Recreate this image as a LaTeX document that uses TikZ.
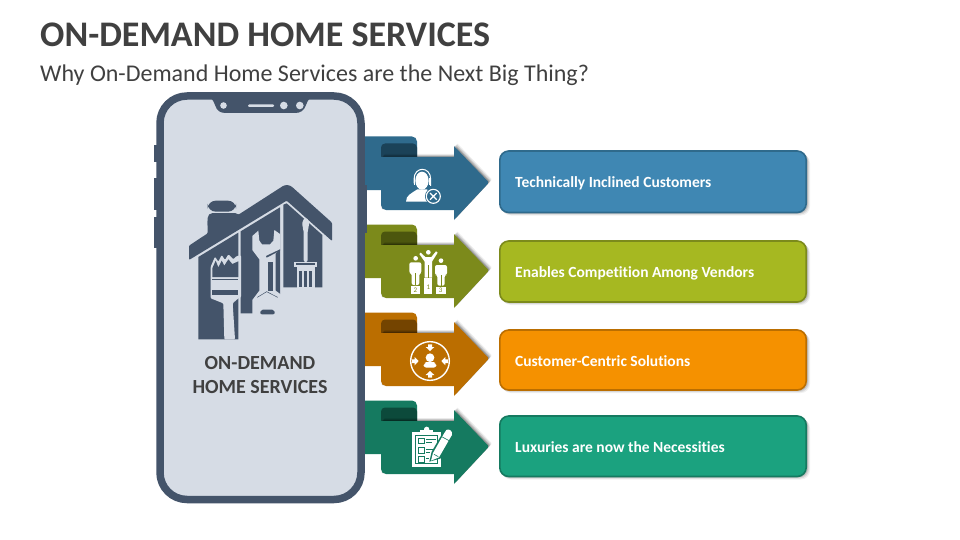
\documentclass[tikz,border=0pt]{standalone}
\usepackage{fontspec}
\setmainfont{Carlito}
\newfontfamily\carl[Ligatures=NoCommon]{Carlito}
\usetikzlibrary{calc}
\definecolor{ink}{HTML}{404040}
\definecolor{slate}{HTML}{44546A}
\definecolor{screen}{HTML}{D6DCE5}
\definecolor{blueA}{HTML}{2F6A8C}\definecolor{blueB}{HTML}{1B4258}\definecolor{blueC}{HTML}{3F87B3}
\definecolor{oliveA}{HTML}{7C8A1B}\definecolor{oliveB}{HTML}{4C560E}\definecolor{oliveC}{HTML}{A6B821}
\definecolor{orA}{HTML}{BB6E00}\definecolor{orB}{HTML}{744400}\definecolor{orC}{HTML}{F59100}
\definecolor{teA}{HTML}{157A60}\definecolor{teB}{HTML}{0C4A3B}\definecolor{teC}{HTML}{1BA27F}
\tikzset{
 titletext/.style={anchor=base west,inner sep=0pt,font=\carl\fontsize{36}{40}\selectfont\bfseries,text=ink},
 subtext/.style={anchor=base west,inner sep=0pt,font=\carl\fontsize{24}{28}\selectfont,text=ink},
 phonetext/.style={align=center,inner sep=0pt,font=\carl\fontsize{20}{23.5}\selectfont\bfseries,text=ink},
 itemtext/.style={anchor=west,inner sep=0pt,font=\carl\fontsize{15.5}{18}\selectfont\bfseries,text=white},
 itembox/.style={rounded corners=9pt,line width=1.6pt},
 ic/.style={fill=white,draw=none},
 sil/.style={fill=slate,draw=none},
 lit/.style={fill=screen,draw=none},
}
\newcommand{\foldarrow}[3]{%
 \begin{scope}[yshift=-#1pt]
 \fill[#2] (355,136.5) [rounded corners=5pt] -- (417,136.5) [sharp corners] -- (417,190) -- (355,190) -- cycle;
 \fill[#3] (381,160) [rounded corners=4pt] -- (381,143.5) -- (417,143.5) [sharp corners] -- (417,160) -- cycle;
 \foreach \s/\o in {3/.07,2.2/.1,1.4/.14,.7/.18}{
  \fill[black,opacity=\o,xshift=\s pt,yshift=\s pt,rounded corners=1pt] (381,157) -- (454,157) -- (454,146) -- (489,182.5) -- (454,220) -- (454,210) -- (381,210) -- cycle;}
 \fill[#2] (381,157) -- (454,157) -- (454,146) [rounded corners=1.5pt] -- (489,182.5) [sharp corners] -- (454,220) -- (454,210) [rounded corners=5pt] -- (381,210) [sharp corners] -- cycle;
 \end{scope}}
\newcommand{\itembx}[4]{% y1 y2 fill border
 \foreach \s/\o in {3/.06,2/.09,1/.12}{
  \fill[black,opacity=\o,rounded corners=9pt] ($(499,#1)+(\s,\s)$) rectangle ($(807,#2)+(\s,\s)$);}
 \draw[itembox,fill=#3,draw=#4] (499.8,#1) rectangle (806.2,#2);
}
\begin{document}
\begin{tikzpicture}[x=1pt,y=-1pt]
\useasboundingbox (0,0) rectangle (960,540);
\fill[white] (0,0) rectangle (960,540);
\node[titletext] (title) at (40,46.5) {ON-DEMAND HOME SERVICES};
\node[subtext] (sub) at (40,82) {Why On-Demand Home Services are the Next Big Thing?};

\foldarrow{0}{blueA}{blueB}
\foldarrow{88}{oliveA}{oliveB}
\foldarrow{176}{orA}{orB}
\foldarrow{264}{teA}{teB}

% phone
\fill[slate] (154,145) rectangle (158,162);
\fill[slate] (154,178) rectangle (158,210);
\fill[slate] (154,217) rectangle (158,248);
\fill[slate] (362,185) rectangle (367,233);
\draw[slate,line width=7.5pt,fill=screen,rounded corners=27pt] (160,96) rectangle (361,499.5);
\fill[slate] (207,96) -- (314,96) .. controls (309,98) and (308,100) .. (306,105) .. controls (304,111) and (300,113) .. (295,113) -- (226,113) .. controls (220,113) and (217,111) .. (215,105) .. controls (213,100) and (212,98) .. (207,96) -- cycle;
\fill[screen] (223.5,105.5) circle (3.3);
\fill[screen,rounded corners=1pt] (248,104.5) rectangle (274,106.8);
\fill[screen] (283.8,105.5) circle (3.8);
\fill[screen] (299.8,105.5) circle (3.8);

% house
\begin{scope}[shift={(185,180)},scale=1/3]
 \fill[sil,rounded corners=1pt] (12,197) -- (68,160) -- (68,120) -- (162,103) [rounded corners=6pt] -- (308,9) [rounded corners=1pt] -- (441,128) -- (441,183) -- (305,62) -- (12,240) -- cycle;
 \fill[sil,rounded corners=5pt] (68,99) rectangle (165,150);
 \fill[sil,rounded corners=8pt] (68,62) rectangle (153,95);
 % left wall
 \fill[sil] (40,231) -- (160,158) -- (160,478) -- (40,478) -- cycle;
 % middle block
 \fill[sil] (167,154) -- (285,82) -- (285,400) -- (167,400) -- cycle;
 % right block
 \fill[sil] (295,74) -- (305,70) -- (412,165) -- (412,322) -- (295,322) -- cycle;
 \fill[lit,rounded corners=2pt] (352,122) -- (362,112) -- (372,122) -- (372,140) -- (368,150) -- (368,246) -- (356,246) -- (356,150) -- (352,140) -- cycle;
 \fill[lit] (328,246) rectangle (396,262);
 \fill[sil] (334,250) rectangle (390,255);
 \fill[lit] (335,262) rectangle (389,324);
 \fill[sil] (342,272) rectangle (351,322);
 \fill[sil] (356,272) rectangle (366,322);
 \fill[sil] (372,272) rectangle (382,322);
\end{scope}
% paint brush
\begin{scope}[shift={(195,240)},scale=1/3]
 \fill[lit,rounded corners=1pt] (47,80) -- (60,50) -- (70,65) -- (80,45) -- (90,60) -- (100,43) -- (115,58) -- (125,48) -- (138,46) -- (138,172) -- (130,175) -- (113,190) -- (120,298) -- (88,298) -- (85,190) -- (47,175) -- cycle;
 \fill[sil] (52,111) -- (52,85) -- (62,62) -- (70,82) -- (80,62) -- (88,77) -- (100,58) -- (112,72) -- (130,64) -- (130,111) -- cycle;
 \fill[sil] (51,116.5) rectangle (130,119.5);
 \fill[sil] (51,150) rectangle (130,165);
\end{scope}
% wrench
\begin{scope}[shift={(240,220)},scale=1/3]
 \fill[lit] (37,48) -- (55,32) -- (58,62) -- (66,73) -- (90,73) -- (100,62) -- (103,30) -- (120,42) -- (120,88) -- (107,100) -- (107,212) -- (125,225) -- (125,300) -- (37,300) -- (37,240) -- (58,212) -- (58,118) -- (37,90) -- cycle;
 \fill[sil] (85,125) rectangle (98,212);
 \fill[sil] (78,108) -- (120,88) -- (120,92) -- (80,113) -- cycle;
 \draw[slate,line width=.5pt] (52,232) -- (80,215) -- (113,232);
 \fill[sil,rounded corners=2pt] (60,283) -- (62,269) -- (103,269) -- (105,283) -- cycle;
\end{scope}
\node[phonetext] (phonelabel) at (260,375) {ON-DEMAND\\HOME SERVICES};

% icon 1
\begin{scope}[shift={(400,160)},scale=1/3]
 \fill[ic] (66,62) ellipse (20 and 27);
 \fill[ic] (18,125) .. controls (18,105) and (35,100) .. (52,88) -- (80,88) .. controls (95,100) and (105,100) .. (110,112) -- (110,125) -- cycle;
 \draw[white,line width=1pt] (43,72) -- (42,58) .. controls (42,18) and (92,18) .. (92,58) -- (92,78);
 \fill[ic] (42,55) rectangle (46,75);
 \fill[ic] (88,55) rectangle (92,75);
 \fill[blueA] (100,109) circle (25);
 \draw[white,line width=1.1pt] (100,109) circle (21);
 \draw[white,line width=1.2pt] (90,99) -- (110,119) (110,99) -- (90,119);
 \fill[ic] (100,109) circle (3);
\end{scope}

% icon 2
\begin{scope}[shift={(400,245)},scale=1/3]
 \fill[ic] (85,22) circle (7);
 \fill[ic] (58,27) -- (62,23) -- (76,36) -- (94,36) -- (108,19) -- (113,23) -- (96,50) -- (96,98) -- (74,98) -- (74,50) -- cycle;
 \fill[ic] (47,40) circle (7);
 \fill[ic,rounded corners=2pt] (28,52) -- (64,52) -- (64,85) -- (58,85) -- (58,120) -- (35,120) -- (35,85) -- (28,85) -- cycle;
 \fill[ic] (123,47) circle (7);
 \fill[ic,rounded corners=2pt] (105,60) -- (141,60) -- (141,90) -- (134,90) -- (134,122) -- (112,122) -- (112,90) -- (105,90) -- cycle;
 \fill[oliveA] (45,85) rectangle (47,120);
 \fill[oliveA] (122,90) rectangle (124,122);
 \fill[oliveA] (84,60) rectangle (86,98);
 \fill[ic] (72,100) rectangle (97,147);
 \fill[ic] (32,123) rectangle (60,147);
 \fill[ic] (108,125) rectangle (137,147);
 \node[text=oliveA,inner sep=0pt,font=\fontsize{7}{7}\selectfont] (n1) at (85,126) {1};
 \node[text=oliveA,inner sep=0pt,font=\fontsize{7}{7}\selectfont] (n2) at (46,135) {2};
 \node[text=oliveA,inner sep=0pt,font=\fontsize{7}{7}\selectfont] (n3) at (122,136) {3};
\end{scope}

% icon 3
\begin{scope}[shift={(400,335)},scale=1/3]
 \draw[white,line width=1.4pt] (90,78) circle (58);
 \fill[ic] (90,68) circle (13);
 \fill[ic,rounded corners=3pt] (70,98) -- (72,85) -- (82,80) -- (98,80) -- (108,85) -- (110,98) -- cycle;
 \fill[ic] (84,28) -- (96,28) -- (96,36) -- (103,36) -- (90,48) -- (77,36) -- (84,36) -- cycle;
 \fill[ic] (84,128) -- (96,128) -- (96,120) -- (103,120) -- (90,108) -- (77,120) -- (84,120) -- cycle;
 \fill[ic] (36,73) -- (36,84) -- (44,84) -- (44,91) -- (56,78) -- (44,66) -- (44,73) -- cycle;
 \fill[ic] (144,73) -- (144,84) -- (136,84) -- (136,91) -- (124,78) -- (136,66) -- (136,73) -- cycle;
\end{scope}

% icon 4
\begin{scope}[shift={(405,425)},scale=1/3]
 \fill[ic] (22,20) rectangle (108,125);
 \draw[teA,line width=.7pt] (32,30) rectangle (98,115);
 \fill[ic] (45,15) rectangle (85,28);
 \fill[ic] (65,13) circle (8);
 \draw[teA,line width=.8pt] (40,40) rectangle (58,55) (40,68) rectangle (58,85) (40,95) rectangle (58,112);
 \draw[teA,line width=.8pt] (64,42) -- (92,42) (64,52) -- (82,52) (64,72) -- (88,72) (64,82) -- (76,82) (64,100) -- (72,100);
 \fill[teA] (73,110) -- (80,80) -- (118,15) -- (150,32) -- (108,100) -- cycle;
 \fill[ic] (78,107) -- (84,84) -- (118,24) -- (124,15) .. controls (132,10) and (144,18) .. (141,30) -- (136,38) -- (102,97) -- cycle;
 \draw[teA,line width=.6pt] (112,36) -- (134,48) (87,88) -- (100,95);
\end{scope}

% boxes
\itembx{151}{212.5}{blueC}{blueA}
\itembx{241}{302}{oliveC}{oliveA}
\itembx{330}{390}{orC}{orA}
\itembx{416}{476.5}{teC}{teA}
\node[itemtext] (t1) at (515,183) {Technically Inclined Customers};
\node[itemtext] (t2) at (515,273) {Enables Competition Among Vendors};
\node[itemtext] (t3) at (515,361) {Customer-Centric Solutions};
\node[itemtext] (t4) at (515,447) {Luxuries are now the Necessities};
\end{tikzpicture}
\end{document}
